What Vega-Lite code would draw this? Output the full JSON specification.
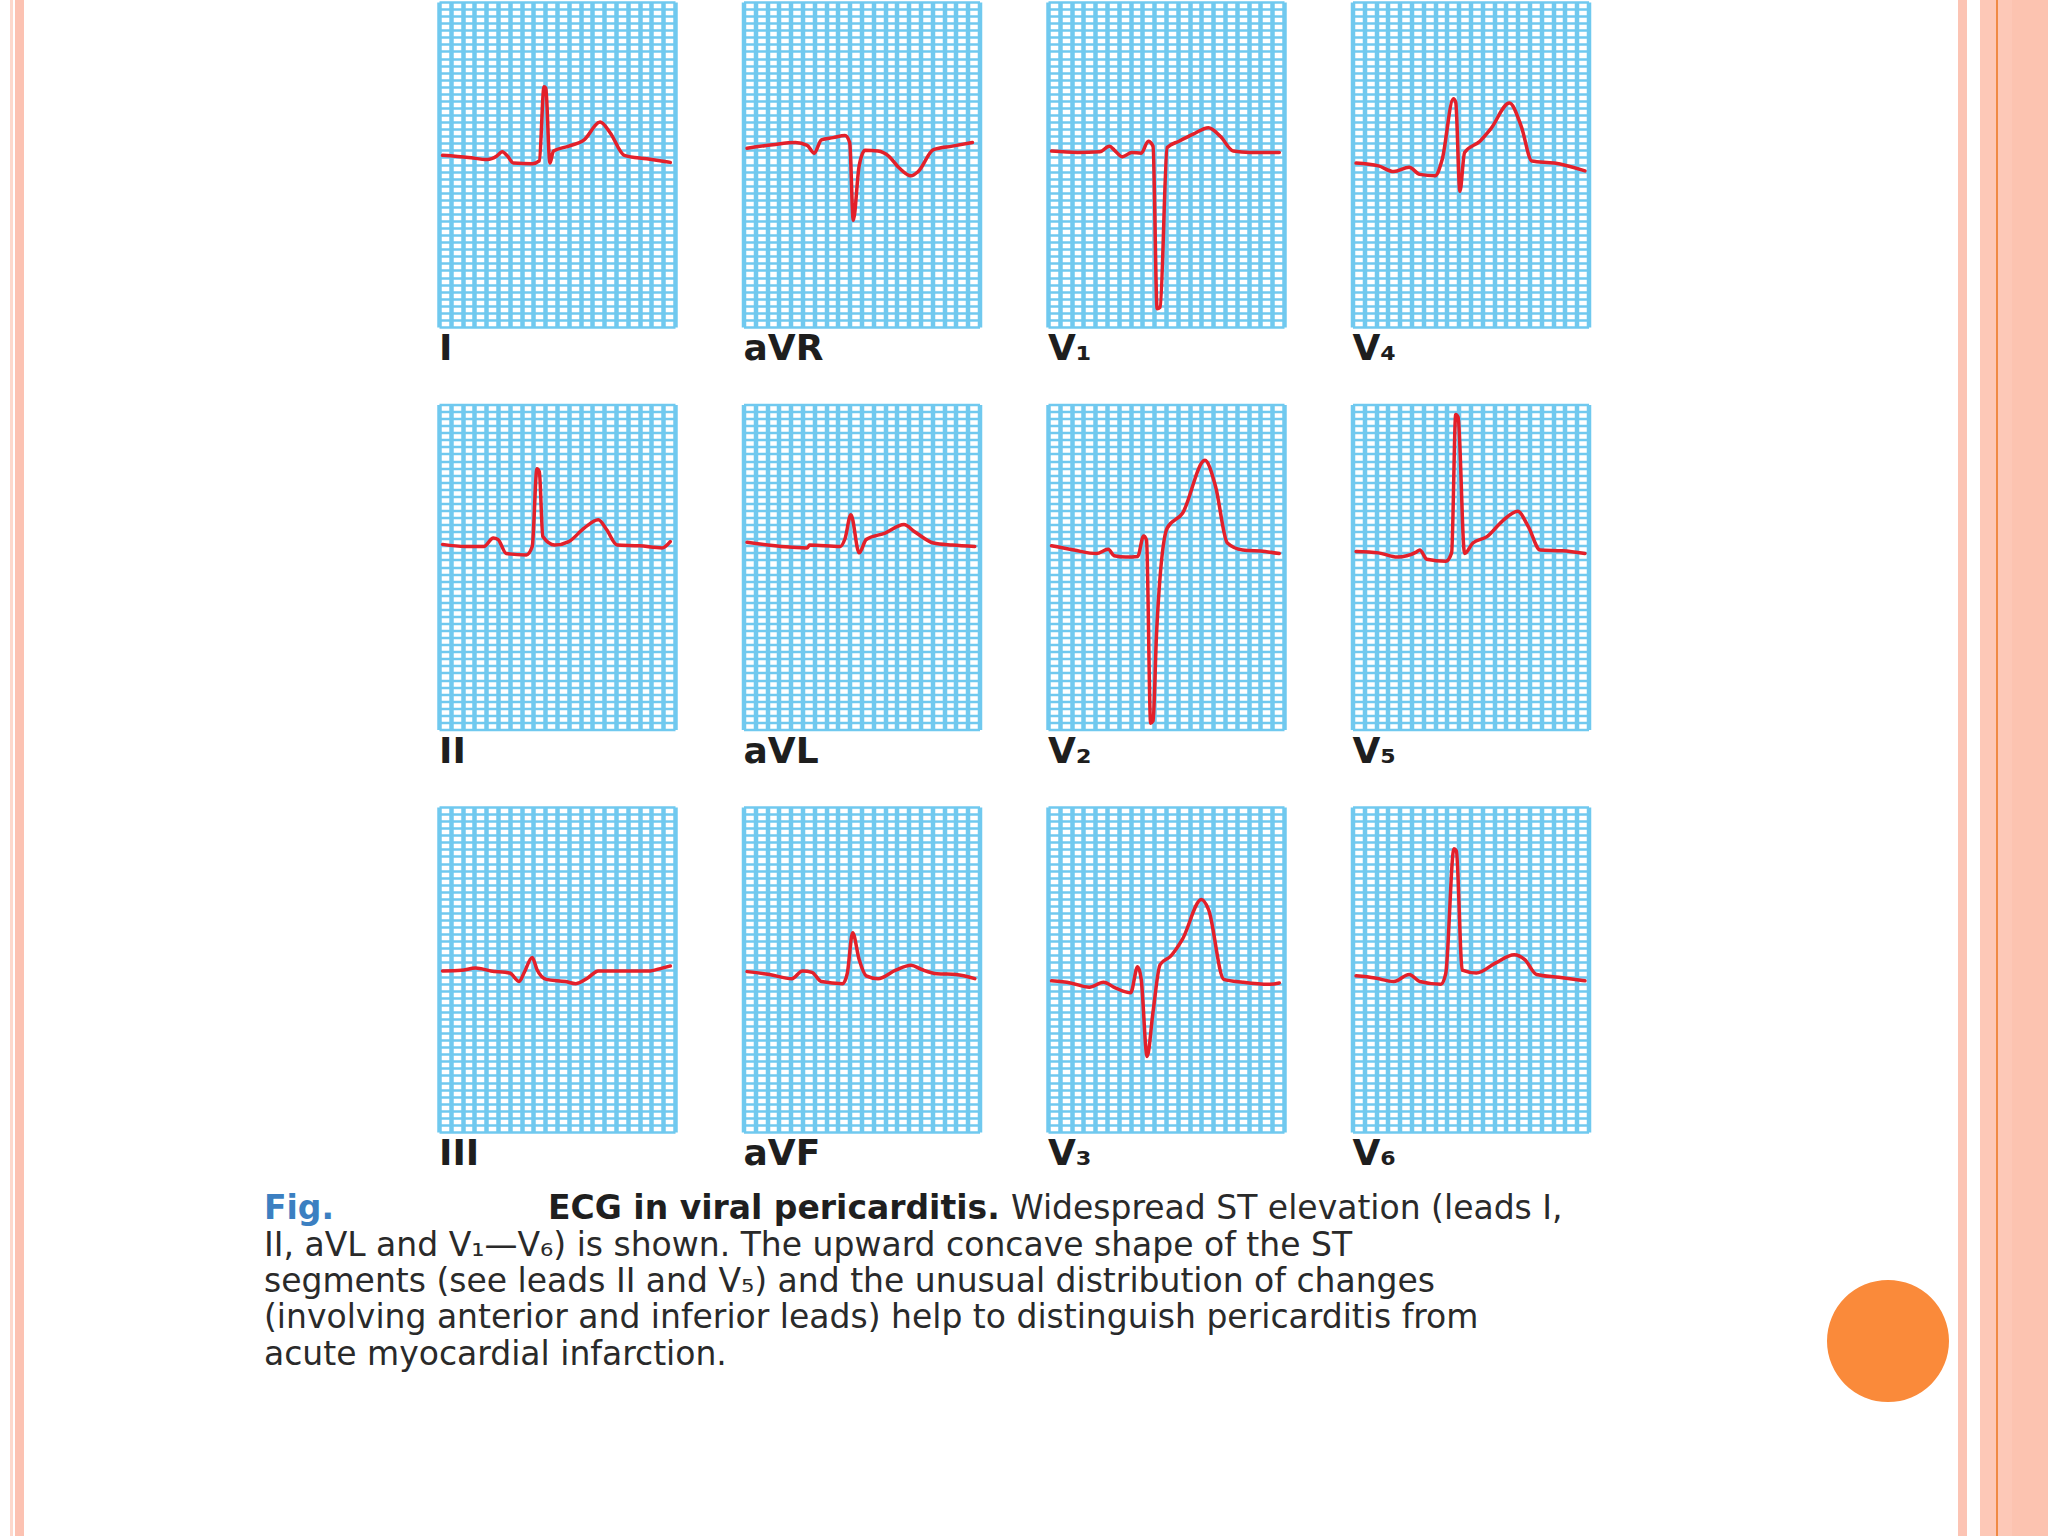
{
  "$schema": "https://vega.github.io/schema/vega-lite/v6.json",
  "background": "white",
  "padding": 0,
  "config": {"view": {"stroke": null}, "font": "DejaVu Sans"},
  "datasets": {
    "ecg": [
      {"lead":"I","t":0.3,"amp":24.3},{"lead":"I","t":2.5,"amp":24.0},{"lead":"I","t":4.1,"amp":23.7},{"lead":"I","t":4.9,"amp":24.2},{"lead":"I","t":5.35,"amp":24.8},{"lead":"I","t":5.8,"amp":24.2},{"lead":"I","t":6.3,"amp":23.2},{"lead":"I","t":7.9,"amp":23.1},{"lead":"I","t":8.5,"amp":23.5},{"lead":"I","t":8.9,"amp":34.0},{"lead":"I","t":9.05,"amp":33.8},{"lead":"I","t":9.4,"amp":23.2},{"lead":"I","t":9.7,"amp":24.9},{"lead":"I","t":11.0,"amp":25.6},{"lead":"I","t":12.3,"amp":26.5},{"lead":"I","t":13.65,"amp":29.0},{"lead":"I","t":14.5,"amp":27.5},{"lead":"I","t":15.7,"amp":24.3},{"lead":"I","t":17.6,"amp":23.8},{"lead":"I","t":19.6,"amp":23.3},
      {"lead":"aVR","t":0.3,"amp":25.3},{"lead":"aVR","t":2.5,"amp":25.8},{"lead":"aVR","t":4.4,"amp":26.1},{"lead":"aVR","t":5.4,"amp":25.7},{"lead":"aVR","t":6.0,"amp":24.6},{"lead":"aVR","t":6.6,"amp":26.5},{"lead":"aVR","t":7.6,"amp":26.8},{"lead":"aVR","t":8.6,"amp":27.1},{"lead":"aVR","t":9.0,"amp":26.1},{"lead":"aVR","t":9.3,"amp":15.1},{"lead":"aVR","t":9.8,"amp":22.8},{"lead":"aVR","t":10.3,"amp":25.0},{"lead":"aVR","t":11.4,"amp":24.9},{"lead":"aVR","t":12.3,"amp":24.2},{"lead":"aVR","t":13.2,"amp":22.5},{"lead":"aVR","t":14.2,"amp":21.4},{"lead":"aVR","t":14.8,"amp":22.0},{"lead":"aVR","t":16.1,"amp":25.1},{"lead":"aVR","t":17.7,"amp":25.6},{"lead":"aVR","t":19.4,"amp":26.1},
      {"lead":"V₁","t":0.3,"amp":24.9},{"lead":"V₁","t":2.5,"amp":24.7},{"lead":"V₁","t":4.4,"amp":24.8},{"lead":"V₁","t":5.2,"amp":25.6},{"lead":"V₁","t":5.7,"amp":24.9},{"lead":"V₁","t":6.3,"amp":24.1},{"lead":"V₁","t":7.1,"amp":24.7},{"lead":"V₁","t":7.9,"amp":24.6},{"lead":"V₁","t":8.5,"amp":26.3},{"lead":"V₁","t":8.9,"amp":25.6},{"lead":"V₁","t":9.25,"amp":2.6},{"lead":"V₁","t":9.5,"amp":2.8},{"lead":"V₁","t":10.1,"amp":25.4},{"lead":"V₁","t":11.1,"amp":26.3},{"lead":"V₁","t":12.3,"amp":27.3},{"lead":"V₁","t":13.6,"amp":28.2},{"lead":"V₁","t":14.6,"amp":27.0},{"lead":"V₁","t":15.7,"amp":24.9},{"lead":"V₁","t":17.1,"amp":24.7},{"lead":"V₁","t":19.6,"amp":24.7},
      {"lead":"V₄","t":0.3,"amp":23.2},{"lead":"V₄","t":2.2,"amp":22.8},{"lead":"V₄","t":3.5,"amp":22.0},{"lead":"V₄","t":4.8,"amp":22.6},{"lead":"V₄","t":5.7,"amp":21.6},{"lead":"V₄","t":7.0,"amp":21.4},{"lead":"V₄","t":7.6,"amp":23.7},{"lead":"V₄","t":8.55,"amp":32.3},{"lead":"V₄","t":8.75,"amp":31.8},{"lead":"V₄","t":9.1,"amp":19.2},{"lead":"V₄","t":9.5,"amp":24.7},{"lead":"V₄","t":10.8,"amp":26.3},{"lead":"V₄","t":11.7,"amp":28.0},{"lead":"V₄","t":13.3,"amp":31.7},{"lead":"V₄","t":14.3,"amp":28.4},{"lead":"V₄","t":15.2,"amp":23.5},{"lead":"V₄","t":17.1,"amp":23.2},{"lead":"V₄","t":19.7,"amp":22.1},
      {"lead":"II","t":0.3,"amp":26.2},{"lead":"II","t":2.2,"amp":25.9},{"lead":"II","t":3.8,"amp":25.9},{"lead":"II","t":4.6,"amp":27.1},{"lead":"II","t":5.0,"amp":26.9},{"lead":"II","t":5.7,"amp":24.9},{"lead":"II","t":7.4,"amp":24.7},{"lead":"II","t":7.9,"amp":25.9},{"lead":"II","t":8.3,"amp":36.9},{"lead":"II","t":8.5,"amp":36.5},{"lead":"II","t":8.8,"amp":27.3},{"lead":"II","t":9.8,"amp":26.1},{"lead":"II","t":11.0,"amp":26.6},{"lead":"II","t":12.3,"amp":28.5},{"lead":"II","t":13.5,"amp":29.7},{"lead":"II","t":14.2,"amp":28.3},{"lead":"II","t":15.1,"amp":26.1},{"lead":"II","t":17.0,"amp":26.0},{"lead":"II","t":18.9,"amp":25.7},{"lead":"II","t":19.6,"amp":26.6},
      {"lead":"aVL","t":0.3,"amp":26.5},{"lead":"aVL","t":3.2,"amp":25.9},{"lead":"aVL","t":5.4,"amp":25.7},{"lead":"aVL","t":5.6,"amp":26.1},{"lead":"aVL","t":8.2,"amp":25.9},{"lead":"aVL","t":8.6,"amp":27.0},{"lead":"aVL","t":9.1,"amp":30.4},{"lead":"aVL","t":9.8,"amp":25.0},{"lead":"aVL","t":10.4,"amp":26.9},{"lead":"aVL","t":12.0,"amp":27.8},{"lead":"aVL","t":13.6,"amp":29.0},{"lead":"aVL","t":14.5,"amp":28.0},{"lead":"aVL","t":16.1,"amp":26.4},{"lead":"aVL","t":17.7,"amp":26.1},{"lead":"aVL","t":19.6,"amp":25.9},
      {"lead":"V₂","t":0.3,"amp":26.0},{"lead":"V₂","t":2.2,"amp":25.4},{"lead":"V₂","t":4.1,"amp":24.9},{"lead":"V₂","t":5.1,"amp":25.5},{"lead":"V₂","t":5.6,"amp":24.6},{"lead":"V₂","t":6.6,"amp":24.4},{"lead":"V₂","t":7.6,"amp":24.5},{"lead":"V₂","t":8.1,"amp":27.4},{"lead":"V₂","t":8.35,"amp":26.8},{"lead":"V₂","t":8.7,"amp":0.9},{"lead":"V₂","t":8.9,"amp":1.2},{"lead":"V₂","t":9.2,"amp":13.6},{"lead":"V₂","t":10.1,"amp":28.5},{"lead":"V₂","t":11.4,"amp":30.6},{"lead":"V₂","t":13.3,"amp":38.1},{"lead":"V₂","t":14.2,"amp":34.4},{"lead":"V₂","t":15.2,"amp":26.4},{"lead":"V₂","t":16.5,"amp":25.4},{"lead":"V₂","t":18.4,"amp":25.2},{"lead":"V₂","t":19.6,"amp":24.9},
      {"lead":"V₅","t":0.3,"amp":25.2},{"lead":"V₅","t":2.2,"amp":25.0},{"lead":"V₅","t":3.8,"amp":24.4},{"lead":"V₅","t":5.4,"amp":25.1},{"lead":"V₅","t":5.7,"amp":25.4},{"lead":"V₅","t":6.3,"amp":24.1},{"lead":"V₅","t":7.9,"amp":23.8},{"lead":"V₅","t":8.4,"amp":25.0},{"lead":"V₅","t":8.75,"amp":44.6},{"lead":"V₅","t":8.95,"amp":44.2},{"lead":"V₅","t":9.5,"amp":24.9},{"lead":"V₅","t":10.2,"amp":26.4},{"lead":"V₅","t":11.4,"amp":27.3},{"lead":"V₅","t":12.7,"amp":29.5},{"lead":"V₅","t":14.0,"amp":30.9},{"lead":"V₅","t":14.9,"amp":28.7},{"lead":"V₅","t":15.9,"amp":25.4},{"lead":"V₅","t":17.8,"amp":25.3},{"lead":"V₅","t":19.7,"amp":24.9},
      {"lead":"III","t":0.3,"amp":22.8},{"lead":"III","t":1.9,"amp":22.9},{"lead":"III","t":3.1,"amp":23.2},{"lead":"III","t":4.4,"amp":22.8},{"lead":"III","t":6.0,"amp":22.5},{"lead":"III","t":6.8,"amp":21.3},{"lead":"III","t":7.2,"amp":22.5},{"lead":"III","t":7.9,"amp":24.7},{"lead":"III","t":8.3,"amp":23.0},{"lead":"III","t":9.1,"amp":21.6},{"lead":"III","t":10.7,"amp":21.3},{"lead":"III","t":11.6,"amp":21.0},{"lead":"III","t":12.6,"amp":21.8},{"lead":"III","t":13.5,"amp":22.8},{"lead":"III","t":15.7,"amp":22.8},{"lead":"III","t":17.9,"amp":22.8},{"lead":"III","t":18.9,"amp":23.2},{"lead":"III","t":19.6,"amp":23.5},
      {"lead":"aVF","t":0.3,"amp":22.7},{"lead":"aVF","t":2.2,"amp":22.3},{"lead":"aVF","t":4.1,"amp":21.7},{"lead":"aVF","t":5.0,"amp":22.8},{"lead":"aVF","t":5.8,"amp":22.6},{"lead":"aVF","t":6.6,"amp":21.3},{"lead":"aVF","t":8.4,"amp":21.0},{"lead":"aVF","t":8.8,"amp":22.5},{"lead":"aVF","t":9.25,"amp":28.2},{"lead":"aVF","t":9.8,"amp":24.4},{"lead":"aVF","t":10.4,"amp":22.1},{"lead":"aVF","t":11.4,"amp":21.7},{"lead":"aVF","t":12.9,"amp":22.9},{"lead":"aVF","t":14.2,"amp":23.6},{"lead":"aVF","t":15.1,"amp":23.0},{"lead":"aVF","t":16.4,"amp":22.4},{"lead":"aVF","t":18.0,"amp":22.3},{"lead":"aVF","t":19.6,"amp":21.7},
      {"lead":"V₃","t":0.3,"amp":21.4},{"lead":"V₃","t":1.9,"amp":21.1},{"lead":"V₃","t":3.5,"amp":20.5},{"lead":"V₃","t":4.7,"amp":21.2},{"lead":"V₃","t":5.7,"amp":20.4},{"lead":"V₃","t":7.0,"amp":19.7},{"lead":"V₃","t":7.6,"amp":23.4},{"lead":"V₃","t":7.9,"amp":21.6},{"lead":"V₃","t":8.4,"amp":10.7},{"lead":"V₃","t":8.9,"amp":17.0},{"lead":"V₃","t":9.5,"amp":23.7},{"lead":"V₃","t":10.4,"amp":24.9},{"lead":"V₃","t":11.4,"amp":27.3},{"lead":"V₃","t":13.0,"amp":32.9},{"lead":"V₃","t":13.6,"amp":31.5},{"lead":"V₃","t":14.9,"amp":21.6},{"lead":"V₃","t":16.5,"amp":21.2},{"lead":"V₃","t":18.7,"amp":20.9},{"lead":"V₃","t":19.6,"amp":21.1},
      {"lead":"V₆","t":0.3,"amp":22.1},{"lead":"V₆","t":1.9,"amp":21.8},{"lead":"V₆","t":3.5,"amp":21.3},{"lead":"V₆","t":4.8,"amp":22.3},{"lead":"V₆","t":5.7,"amp":21.3},{"lead":"V₆","t":7.5,"amp":20.9},{"lead":"V₆","t":7.9,"amp":22.4},{"lead":"V₆","t":8.6,"amp":40.1},{"lead":"V₆","t":8.8,"amp":39.8},{"lead":"V₆","t":9.3,"amp":22.9},{"lead":"V₆","t":10.5,"amp":22.5},{"lead":"V₆","t":12.1,"amp":23.9},{"lead":"V₆","t":13.7,"amp":25.1},{"lead":"V₆","t":14.6,"amp":24.4},{"lead":"V₆","t":15.6,"amp":22.3},{"lead":"V₆","t":17.5,"amp":21.9},{"lead":"V₆","t":19.7,"amp":21.4}
    ],
    "caption": [
      {"line":1,"part":"fig","text":"Fig."},
      {"line":1,"part":"head","text":"ECG in viral pericarditis."},
      {"line":1,"part":"lead","text":"Widespread ST elevation (leads I,"},
      {"line":2,"part":"body","text":"II, aVL and V₁—V₆) is shown. The upward concave shape of the ST"},
      {"line":3,"part":"body","text":"segments (see leads II and V₅) and the unusual distribution of changes"},
      {"line":4,"part":"body","text":"(involving anterior and inferior leads) help to distinguish pericarditis from"},
      {"line":5,"part":"body","text":"acute myocardial infarction."}
    ]
  },
  "spacing": 0,
  "hconcat": [
    {"width": 10, "height": 1536, "data": {"values": [{}]}, "mark": {"type": "point", "opacity": 0, "size": 0, "strokeWidth": 0}},
    {"width": 3, "height": 1536, "data": {"values": [{}]}, "mark": {"type": "point", "opacity": 0, "size": 0, "strokeWidth": 0}, "view": {"fill": "#fdd8cc"}},
    {"width": 2, "height": 1536, "data": {"values": [{}]}, "mark": {"type": "point", "opacity": 0, "size": 0, "strokeWidth": 0}},
    {"width": 9, "height": 1536, "data": {"values": [{}]}, "mark": {"type": "point", "opacity": 0, "size": 0, "strokeWidth": 0}, "view": {"fill": "#fcc2b2"}},
    {"width": 240, "height": 1536, "data": {"values": [{}]}, "mark": {"type": "point", "opacity": 0, "size": 0, "strokeWidth": 0}},
    {
      "spacing": 0,
      "vconcat": [
        {"width": 1, "height": 2, "data": {"values": [{}]}, "mark": {"type": "point", "opacity": 0, "size": 0, "strokeWidth": 0}},
        {
          "spacing": 0,
          "hconcat": [
            {"width": 175, "height": 1, "data": {"values": [{}]}, "mark": {"type": "point", "opacity": 0, "size": 0, "strokeWidth": 0}},
            {
              "data": {"name": "ecg"},
              "columns": 4,
              "spacing": {"row": 77.5, "column": 68.5},
              "bounds": "flush",
              "facet": {
                "field": "lead",
                "type": "nominal",
                "title": null,
                "sort": ["I", "aVR", "V₁", "V₄", "II", "aVL", "V₂", "V₅", "III", "aVF", "V₃", "V₆"],
                "header": {
                  "labelOrient": "bottom",
                  "labelAnchor": "start",
                  "labelAlign": "left",
                  "labelPadding": 5,
                  "labelFont": "DejaVu Sans",
                  "labelFontSize": 36,
                  "labelFontWeight": "bold",
                  "labelColor": "#1e1e1e"
                }
              },
              "spec": {
                "width": 236,
                "height": 325,
                "mark": {"type": "line", "color": "#e3202a", "strokeWidth": 3.5, "strokeJoin": "round", "strokeCap": "round", "interpolate": "monotone"},
                "encoding": {
                  "x": {
                    "field": "t", "type": "quantitative",
                    "scale": {"domain": [0, 20], "nice": false, "zero": false},
                    "axis": {"values": [0,1,2,3,4,5,6,7,8,9,10,11,12,13,14,15,16,17,18,19,20], "grid": true, "gridColor": "#70c9ef", "gridWidth": 4.5, "gridOpacity": 1, "labels": false, "ticks": false, "domain": false, "title": null}
                  },
                  "y": {
                    "field": "amp", "type": "quantitative",
                    "scale": {"domain": [0, 46], "nice": false, "zero": false},
                    "axis": {"values": [0,1,2,3,4,5,6,7,8,9,10,11,12,13,14,15,16,17,18,19,20,21,22,23,24,25,26,27,28,29,30,31,32,33,34,35,36,37,38,39,40,41,42,43,44,45,46], "grid": true, "gridColor": "#70c9ef", "gridWidth": 2.5, "gridOpacity": 1, "labels": false, "ticks": false, "domain": false, "title": null}
                  }
                }
              }
            }
          ]
        },
        {"width": 1, "height": 21, "data": {"values": [{}]}, "mark": {"type": "point", "opacity": 0, "size": 0, "strokeWidth": 0}},
        {
          "width": 1480,
          "height": 182,
          "data": {"name": "caption"},
          "encoding": {
            "y": {"field": "line", "type": "ordinal", "axis": null, "scale": {"type": "point", "padding": 0.5}},
            "x": {"value": 0},
            "text": {"field": "text", "type": "nominal"}
          },
          "layer": [
            {"transform": [{"filter": "datum.part === 'fig'"}], "mark": {"type": "text", "align": "left", "baseline": "alphabetic", "font": "DejaVu Sans", "fontSize": 33, "fontWeight": "bold", "color": "#3b7fc1"}},
            {"transform": [{"filter": "datum.part === 'head'"}], "mark": {"type": "text", "align": "left", "baseline": "alphabetic", "font": "DejaVu Sans", "fontSize": 33, "fontWeight": "bold", "color": "#1f1f1f", "dx": 284}},
            {"transform": [{"filter": "datum.part === 'lead'"}], "mark": {"type": "text", "align": "left", "baseline": "alphabetic", "font": "DejaVu Sans", "fontSize": 33, "color": "#2a2a2a", "dx": 747}},
            {"transform": [{"filter": "datum.part === 'body'"}], "mark": {"type": "text", "align": "left", "baseline": "alphabetic", "font": "DejaVu Sans", "fontSize": 33, "color": "#2a2a2a"}}
          ]
        }
      ]
    },
    {"width": 83, "height": 1536, "data": {"values": [{}]}, "mark": {"type": "point", "opacity": 0, "size": 0, "strokeWidth": 0}},
    {
      "spacing": 0,
      "vconcat": [
        {"width": 122, "height": 1280, "data": {"values": [{}]}, "mark": {"type": "point", "opacity": 0, "size": 0, "strokeWidth": 0}},
        {"width": 122, "height": 122, "data": {"values": [{}]}, "mark": {"type": "point", "filled": true, "color": "#fa8a3a", "opacity": 1, "size": 14884, "strokeWidth": 0}}
      ]
    },
    {"width": 9, "height": 1536, "data": {"values": [{}]}, "mark": {"type": "point", "opacity": 0, "size": 0, "strokeWidth": 0}},
    {"width": 9, "height": 1536, "data": {"values": [{}]}, "mark": {"type": "point", "opacity": 0, "size": 0, "strokeWidth": 0}, "view": {"fill": "#fcc4b4"}},
    {"width": 13, "height": 1536, "data": {"values": [{}]}, "mark": {"type": "point", "opacity": 0, "size": 0, "strokeWidth": 0}},
    {"width": 16, "height": 1536, "data": {"values": [{}]}, "mark": {"type": "point", "opacity": 0, "size": 0, "strokeWidth": 0}, "view": {"fill": "#fdc8b7"}},
    {"width": 2, "height": 1536, "data": {"values": [{}]}, "mark": {"type": "point", "opacity": 0, "size": 0, "strokeWidth": 0}, "view": {"fill": "#f08a44"}},
    {"width": 14, "height": 1536, "data": {"values": [{}]}, "mark": {"type": "point", "opacity": 0, "size": 0, "strokeWidth": 0}, "view": {"fill": "#fdc8b7"}},
    {"width": 36, "height": 1536, "data": {"values": [{}]}, "mark": {"type": "point", "opacity": 0, "size": 0, "strokeWidth": 0}, "view": {"fill": "#fcc3b0"}}
  ]
}
